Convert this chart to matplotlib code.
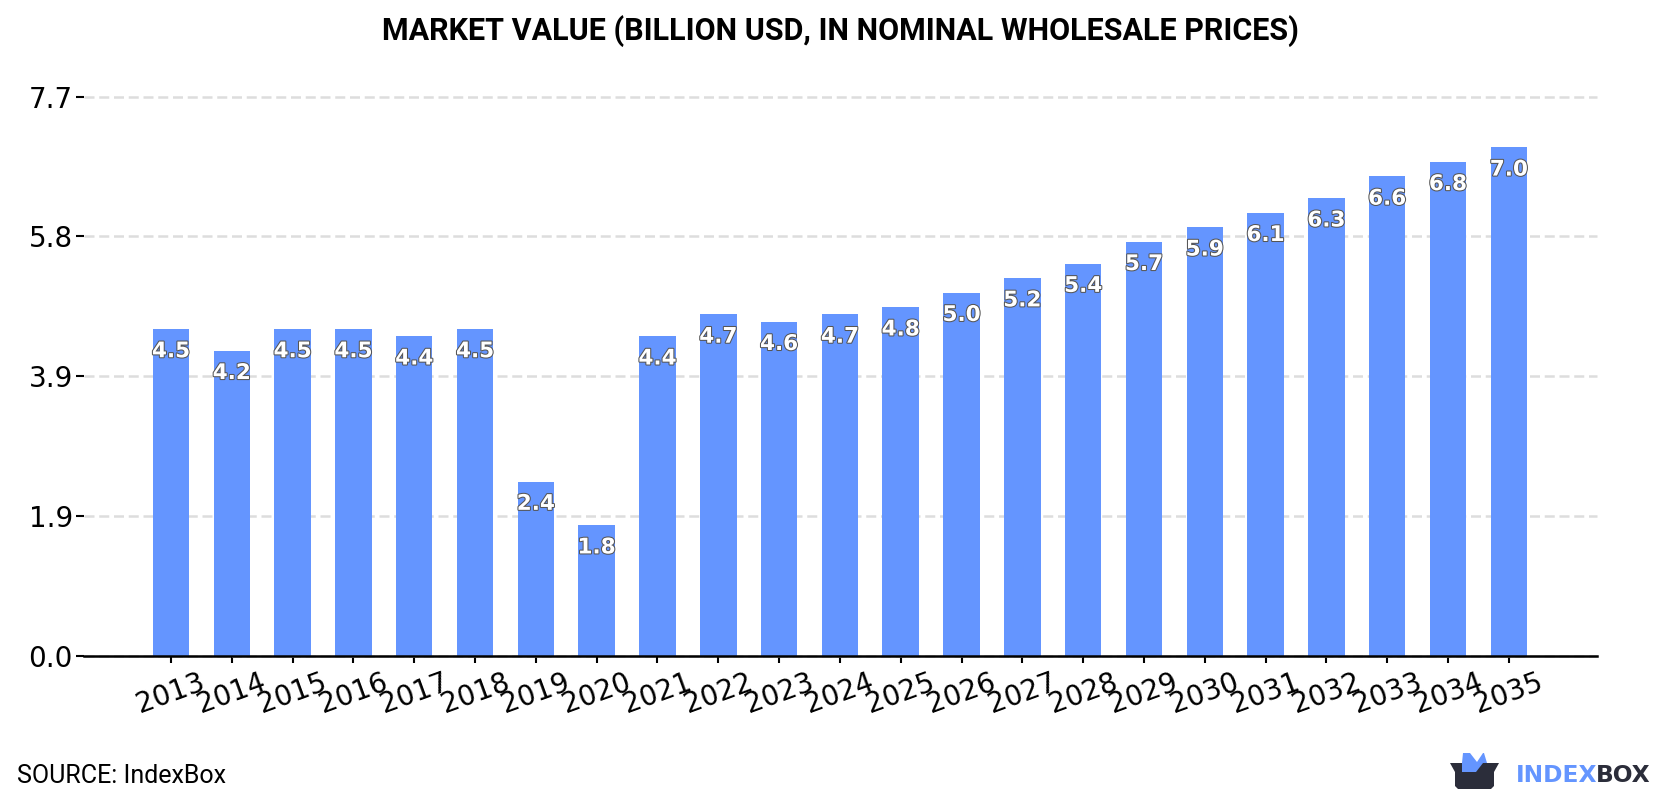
import matplotlib
matplotlib.use('Agg')
import matplotlib.pyplot as plt
import matplotlib.patheffects as pe
from matplotlib.patches import Polygon

# market value data
YEARS = list(range(2013, 2036))
VALUES = [4.5, 4.2, 4.5, 4.5, 4.4, 4.5, 2.4, 1.8, 4.4, 4.7, 4.6, 4.7, 4.8,
          5.0, 5.2, 5.4, 5.7, 5.9, 6.1, 6.3, 6.6, 6.8, 7.0]
Y_TICKS = [0.0, 1.925, 3.85, 5.775, 7.7]
Y_TICK_LABELS = ['0.0', '1.9', '3.9', '5.8', '7.7']

TITLE = 'MARKET VALUE (BILLION USD, IN NOMINAL WHOLESALE PRICES)'
BLUE = '#6495ff'
DARK = '#2b2d3a'
W, H = 1680, 800

fig = plt.figure(figsize=(W / 100, H / 100), dpi=100)
ax = fig.add_axes([84 / W, 1 - 656 / H, (1597 - 84) / W, (656 - 96.5) / H])

ax.set_axisbelow(True)
ax.grid(axis='y', color='#dddddd', linewidth=1.8, linestyle=(0, (4, 1.9)))
for line in ax.get_ygridlines():
    line.set_clip_on(False)
ax.bar(YEARS, VALUES, width=0.6, color=BLUE)

ax.set_xlim(YEARS[0] - 1.43, YEARS[-1] + 1.45)
ax.set_ylim(0, 7.7)
ax.set_yticks(Y_TICKS, Y_TICK_LABELS)
ax.set_xticks(YEARS, YEARS, rotation=20, ha='center')
ax.tick_params(axis='y', length=6, width=1.5, labelsize=20, pad=2)
ax.tick_params(axis='x', length=5, width=1.5, labelsize=20, pad=4)

for side in ['top', 'right', 'left']:
    ax.spines[side].set_visible(False)
ax.spines['bottom'].set_linewidth(1.8)

# value labels sit just inside the bar tops
for year, value in zip(YEARS, VALUES):
    ax.annotate('{:.1f}'.format(value), (year, value), xytext=(0, -16),
                textcoords='offset points', ha='center', va='center',
                color='white', fontsize=15.5, fontweight='bold',
                path_effects=[pe.withStroke(linewidth=1.5, foreground='#555555')])

fig.text(0.5, 1 - 31 / H, TITLE, ha='center', va='center',
         family='Roboto', fontweight='bold', fontsize=22, color='black')
fig.text(17 / W, 1 - 776 / H, 'SOURCE: IndexBox', ha='left', va='center',
         family='Roboto', fontsize=18, color='black')

# logo, laid out in pixel coordinates on a full-figure overlay
logo = fig.add_axes([0, 0, 1, 1])
logo.set_xlim(0, W)
logo.set_ylim(H, 0)
logo.axis('off')
logo.add_patch(Polygon([(1462, 763), (1463, 753), (1470, 753), (1477, 762), (1483, 753),
                        (1484, 753), (1487, 763), (1486, 772), (1462, 772)],
                       closed=True, color=BLUE, lw=0))
logo.add_patch(Polygon([(1450, 763), (1462, 763), (1462, 772), (1476, 772), (1483, 763),
                        (1499, 763), (1494, 772), (1494, 786), (1491, 789), (1458, 789),
                        (1455, 786), (1455, 772)],
                       closed=True, color=DARK, lw=0))
logo.text(1516, 782, 'INDEX', family='DejaVu Sans', fontweight='bold', fontsize=16.8,
          color=BLUE, ha='left', va='baseline')
logo.text(1596, 782, 'BOX', family='DejaVu Sans', fontweight='bold', fontsize=16.8,
          color=DARK, ha='left', va='baseline')

fig.savefig('out.png', dpi=100)
